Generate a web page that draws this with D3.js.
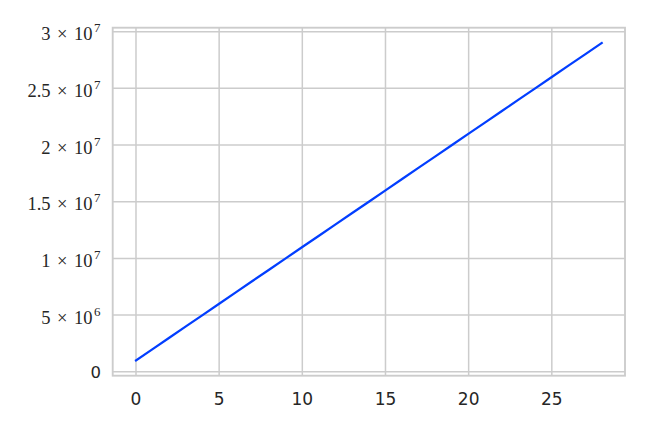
<!DOCTYPE html>
<html>
<head>
<meta charset="utf-8">
<script src="https://cdn.jsdelivr.net/npm/d3@7"></script>
<style>
  html, body { margin: 0; padding: 0; background: #ffffff; }
  svg { display: block; }
</style>
</head>
<body>
<svg id="chart" width="648" height="432"></svg>
<script>
// ---- data ----
const xValues = [0, 1, 2, 3, 4, 5, 6, 7, 8, 9, 10, 11, 12, 13, 14, 15, 16, 17, 18, 19, 20, 21, 22, 23, 24, 25, 26, 27, 28];
const yValues = [1e6, 2e6, 3e6, 4e6, 5e6, 6e6, 7e6, 8e6, 9e6, 10e6, 11e6, 12e6, 13e6, 14e6, 15e6, 16e6, 17e6, 18e6, 19e6, 20e6, 21e6, 22e6, 23e6, 24e6, 25e6, 26e6, 27e6, 28e6, 29e6];
const xTicks = [0, 5, 10, 15, 20, 25];
const yTicks = [0, 5e6, 1e7, 1.5e7, 2e7, 2.5e7, 3e7];
const yTickMantissa = ["0", "5", "1", "1.5", "2", "2.5", "3"];
const yTickExponent = [null, "6", "7", "7", "7", "7", "7"];

// ---- layout ----
const pLeft = 112.7, pRight = 625, pTop = 27.7, pBottom = 375.7;
const svg = d3.select("#chart");

const x = d3.scaleLinear().domain([-1.4, 29.4]).range([pLeft, pRight]);
const y = d3.scaleLinear().domain([-3.5e5, 3.035e7]).range([pBottom, pTop]);

const gridColor = "#cccccc";
const textColor = "#262626";

// gridlines
const gGrid = svg.append("g");
gGrid.selectAll("line.vx").data(xTicks).enter().append("line")
  .attr("class", "vx")
  .attr("x1", d => x(d)).attr("x2", d => x(d))
  .attr("y1", pTop).attr("y2", pBottom)
  .attr("stroke", gridColor).attr("stroke-width", 1.5);
gGrid.selectAll("line.hy").data(yTicks).enter().append("line")
  .attr("class", "hy")
  .attr("x1", pLeft).attr("x2", pRight)
  .attr("y1", d => y(d)).attr("y2", d => y(d))
  .attr("stroke", gridColor).attr("stroke-width", 1.5);

// line
const pts = xValues.map((v, i) => [v, yValues[i]]);
svg.append("path")
  .datum(pts)
  .attr("fill", "none")
  .attr("stroke", "#023eff")
  .attr("stroke-width", 2.25)
  .attr("stroke-linecap", "square")
  .attr("d", d3.line().x(d => x(d[0])).y(d => y(d[1])));

// spines
svg.append("rect")
  .attr("x", pLeft).attr("y", pTop)
  .attr("width", pRight - pLeft).attr("height", pBottom - pTop)
  .attr("fill", "none").attr("stroke", gridColor).attr("stroke-width", 1.875);

// x tick labels
svg.append("g").selectAll("text").data(xTicks).enter().append("text")
  .attr("x", d => x(d))
  .attr("y", 405)
  .attr("text-anchor", "middle")
  .attr("font-family", "DejaVu Sans, sans-serif")
  .attr("font-size", "17px")
  .attr("fill", textColor)
  .text(d => d);

// y tick labels
const gy = svg.append("g");
yTicks.forEach((v, i) => {
  const gy0 = y(v);
  if (yTickExponent[i] === null) {
    gy.append("text")
      .attr("x", 101).attr("y", gy0 + 6)
      .attr("text-anchor", "end")
      .attr("font-family", "DejaVu Sans, sans-serif")
      .attr("font-size", "16.5px")
      .attr("fill", textColor)
      .text(yTickMantissa[i]);
  } else {
    const t = gy.append("text")
      .attr("x", 100.5).attr("y", gy0 + 8.5)
      .attr("text-anchor", "end")
      .attr("font-family", "Liberation Serif, serif")
      .attr("font-size", "18.5px")
      .attr("fill", textColor);
    t.append("tspan").text(yTickMantissa[i]);
    t.append("tspan").attr("dx", 6.5).text("\u00D7");
    t.append("tspan").attr("dx", 6.5).text("10");
    t.append("tspan").attr("dx", 1.5).attr("dy", -8).attr("font-size", "13px").text(yTickExponent[i]);
  }
});
</script>
</body>
</html>
